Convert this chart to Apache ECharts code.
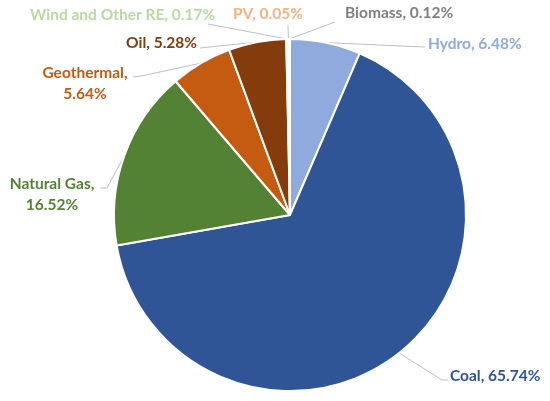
<!DOCTYPE html>
<html>
<head>
<meta charset="utf-8">
<script src="https://cdn.jsdelivr.net/npm/echarts@6/dist/echarts.min.js"></script>
<style>
html,body{margin:0;padding:0;background:#fff;}
#chart{width:550px;height:401px;}
</style>
</head>
<body>
<div id="chart"></div>
<script>
// ---- data ----
const categories = ['Hydro', 'Coal', 'Natural Gas', 'Geothermal', 'Oil', 'Wind and Other RE', 'PV', 'Biomass'];
const shares = [6.48, 65.74, 16.52, 5.64, 5.28, 0.17, 0.05, 0.12];
const sliceColors = ['#8FAADC', '#2F5597', '#548235', '#C55A11', '#843C0C', '#A9D18E', '#F4B183', '#A5A5A5'];
const labelColors = ['#8FAADC', '#2F5597', '#548235', '#C55A11', '#843C0C', '#B8D9A2', '#F4B183', '#7F7F7F'];
const breakAfterName = [false, false, true, true, false, false, false, false];

// ---- label placement (layout only) ----
// x, y: label anchor; align; line: extra points of the leader line after the slice edge
const labelPlacement = [
  { x: 428, y: 44,  align: 'left',   line: [[425, 47], [425, 47]] },
  { x: 450, y: 376, align: 'left',   line: [[442, 380], [448, 380]] },
  { x: 52,  y: 194, align: 'center', line: [[107, 188], [100, 188]] },
  { x: 85,  y: 83,  align: 'center', line: [[141, 76], [133, 77]] },
  { x: 197, y: 43,  align: 'right',  line: [[200, 48], [200, 48]] },
  { x: 30,  y: 15,  align: 'left',   line: [[208, 24], [208, 24]] },
  { x: 268, y: 14,  align: 'center', line: [[288, 25], [288, 25]] },
  { x: 345, y: 13,  align: 'left',   line: [[335, 22], [335, 22]] }
];

const CENTER = [290, 215];
const RADIUS = 176;

function edgePoint(i) {
  const total = shares.reduce((a, b) => a + b, 0);
  let before = 0;
  for (let k = 0; k < i; k++) before += shares[k];
  const mid = (before + shares[i] / 2) / total * Math.PI * 2;
  return [CENTER[0] + RADIUS * Math.sin(mid), CENTER[1] - RADIUS * Math.cos(mid)];
}

const chart = echarts.init(document.getElementById('chart'), null, { renderer: 'canvas' });

const option = {
  backgroundColor: '#ffffff',
  animation: false,
  series: [{
    type: 'pie',
    center: CENTER,
    radius: RADIUS,
    startAngle: 90,
    clockwise: true,
    avoidLabelOverlap: false,
    minShowLabelAngle: 0,
    itemStyle: { borderColor: '#ffffff', borderWidth: 2 },
    label: {
      show: true,
      position: 'outside',
      fontFamily: 'Lato',
      fontWeight: 'bold',
      fontSize: 15.5,
      lineHeight: 21,
      formatter: function (p) {
        const sep = breakAfterName[p.dataIndex] ? ',\n' : ', ';
        return p.name + sep + shares[p.dataIndex].toFixed(2) + '%';
      }
    },
    labelLine: {
      show: true,
      length: 10,
      length2: 10,
      lineStyle: { color: '#BFBFBF', width: 1 }
    },
    emphasis: { disabled: true },
    labelLayout: function (params) {
      const i = params.dataIndex;
      const L = labelPlacement[i];
      const start = (params.labelLinePoints && params.labelLinePoints[0]) || edgePoint(i);
      return {
        x: L.x,
        y: L.y,
        align: L.align,
        verticalAlign: 'middle',
        labelLinePoints: [start, L.line[0], L.line[1]]
      };
    },
    data: categories.map((name, i) => ({
      name: name,
      value: shares[i],
      itemStyle: { color: sliceColors[i] },
      label: { color: labelColors[i], align: labelPlacement[i].align }
    }))
  }]
};

chart.setOption(option);
</script>
</body>
</html>
